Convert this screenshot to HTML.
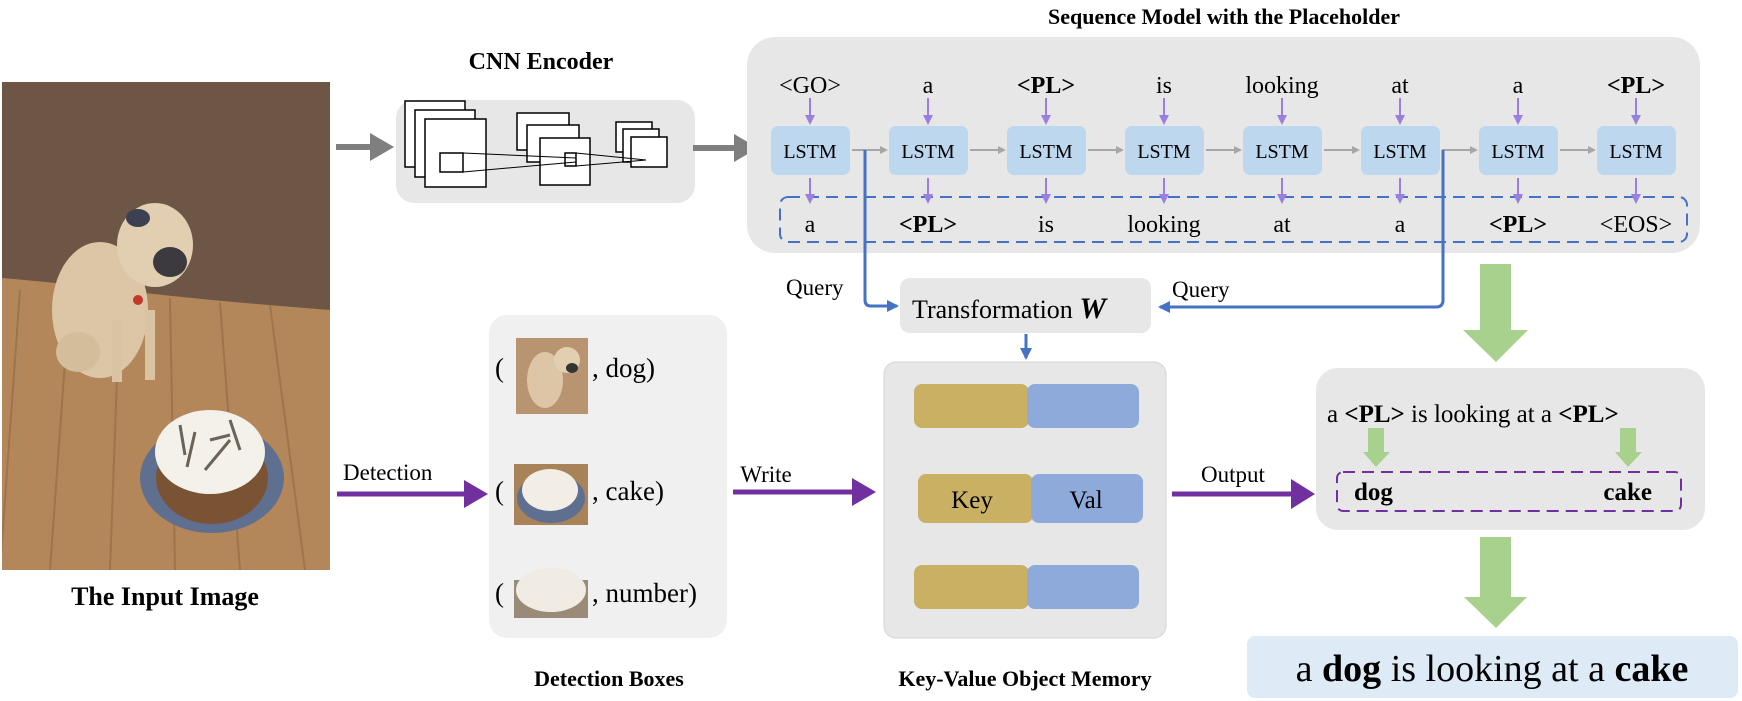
<!DOCTYPE html>
<html><head><meta charset="utf-8"><style>
html,body{margin:0;padding:0;background:#fff;}
svg{display:block;}
svg text{font-family:"Liberation Serif","Times New Roman",serif;}
</style></head><body>
<svg width="1742" height="701" viewBox="0 0 1742 701" xmlns="http://www.w3.org/2000/svg" font-family="Liberation Serif, serif">
<defs>
<marker id="ag" markerWidth="8" markerHeight="8" refX="6" refY="4" orient="auto" markerUnits="userSpaceOnUse"><path d="M0,0 L8,4 L0,8 z" fill="#a6a6a6"/></marker>
<marker id="ap" markerWidth="10" markerHeight="10" refX="8" refY="5" orient="auto" markerUnits="userSpaceOnUse"><path d="M0,0 L10,5 L0,10 z" fill="#9b7fe0"/></marker>
<marker id="ab" markerWidth="12" markerHeight="12" refX="10" refY="6" orient="auto" markerUnits="userSpaceOnUse"><path d="M0,0 L12,6 L0,12 z" fill="#4472c4"/></marker>
<clipPath id="ph"><rect x="2" y="82" width="328" height="488"/></clipPath>
</defs>

<!-- Photo -->
<g clip-path="url(#ph)">
<rect x="2" y="82" width="328" height="488" fill="#b4875a"/>
<path d="M2,82 H330 V310 Q200,300 120,290 Q50,282 2,278 Z" fill="#6e5646"/>
<g stroke="#8e6a45" stroke-width="2" opacity="0.6">
<line x1="20" y1="290" x2="0" y2="570"/><line x1="70" y1="292" x2="50" y2="570"/><line x1="120" y1="295" x2="110" y2="570"/><line x1="170" y1="298" x2="175" y2="570"/><line x1="220" y1="302" x2="240" y2="570"/><line x1="270" y1="305" x2="305" y2="570"/>
</g>
<ellipse cx="100" cy="310" rx="48" ry="68" fill="#dcc6a6"/>
<ellipse cx="155" cy="245" rx="38" ry="42" fill="#e2cfb2"/>
<ellipse cx="170" cy="262" rx="17" ry="15" fill="#3c3a3e"/>
<ellipse cx="138" cy="218" rx="12" ry="9" fill="#3b4150"/>
<rect x="112" y="320" width="10" height="62" fill="#d8c3a2"/>
<rect x="145" y="310" width="10" height="70" fill="#d8c3a2"/>
<ellipse cx="78" cy="352" rx="22" ry="20" fill="#d4bd9a"/>
<circle cx="138" cy="300" r="5" fill="#c0392b"/>
<ellipse cx="212" cy="478" rx="72" ry="55" fill="#5f6f90"/>
<ellipse cx="212" cy="478" rx="56" ry="46" fill="#7a5334"/>
<ellipse cx="210" cy="452" rx="55" ry="42" fill="#f4f1ea"/>
<path d="M180,425 l5,30 M195,432 l-8,35 M210,440 l20,-5 M205,470 l25,-30 M230,420 l10,30" stroke="#6b6258" stroke-width="3" fill="none"/>
</g>
<text x="165" y="605" font-size="26" font-weight="bold" text-anchor="middle">The Input Image</text>

<!-- arrow into CNN -->
<line x1="336" y1="147" x2="372" y2="147" stroke="#7f7f7f" stroke-width="6"/>
<path d="M370,133 L394,147 L370,161 z" fill="#7f7f7f"/>

<!-- CNN encoder -->
<text x="541" y="69" font-size="24" font-weight="bold" text-anchor="middle">CNN Encoder</text>
<rect x="396" y="100" width="299" height="103" rx="18" fill="#e7e7e7"/>
<g fill="#fff" stroke="#000" stroke-width="1.5">
<rect x="405" y="101" width="60" height="66"/><rect x="415" y="110" width="60" height="67"/><rect x="425" y="119" width="61" height="68"/>
<rect x="517" y="113" width="52" height="37"/><rect x="527" y="125" width="52" height="37"/><rect x="540" y="138" width="50" height="47"/>
<rect x="616" y="122" width="36" height="30"/><rect x="623" y="129" width="36" height="33"/><rect x="631" y="137" width="36" height="30"/>
<rect x="440" y="153" width="23" height="19"/>
<rect x="565" y="153" width="11" height="13"/>
</g>
<g stroke="#000" stroke-width="1" fill="none">
<line x1="463" y1="153" x2="576" y2="158"/><line x1="463" y1="172" x2="576" y2="162"/>
<line x1="576" y1="153" x2="646" y2="160"/><line x1="576" y1="166" x2="646" y2="160"/>
</g>

<!-- arrow CNN -> seq -->
<line x1="693" y1="148" x2="736" y2="148" stroke="#7f7f7f" stroke-width="6"/>
<path d="M734,134 L758,148 L734,162 z" fill="#7f7f7f"/>

<!-- Sequence model -->
<text x="1224" y="24" font-size="22" font-weight="bold" text-anchor="middle">Sequence Model with the Placeholder</text>
<rect x="747" y="37" width="953" height="216" rx="28" fill="#e7e7e7"/>
<rect x="780" y="197" width="907" height="45" rx="8" fill="none" stroke="#4472c4" stroke-width="2" stroke-dasharray="12,7"/>

<g font-size="24" text-anchor="middle">
<text x="810" y="93">&lt;GO&gt;</text>
<text x="928" y="93">a</text>
<text x="1046" y="93" font-weight="bold">&lt;PL&gt;</text>
<text x="1164" y="93">is</text>
<text x="1282" y="93">looking</text>
<text x="1400" y="93">at</text>
<text x="1518" y="93">a</text>
<text x="1636" y="93" font-weight="bold">&lt;PL&gt;</text>

<text x="810" y="232">a</text>
<text x="928" y="232" font-weight="bold">&lt;PL&gt;</text>
<text x="1046" y="232">is</text>
<text x="1164" y="232">looking</text>
<text x="1282" y="232">at</text>
<text x="1400" y="232">a</text>
<text x="1518" y="232" font-weight="bold">&lt;PL&gt;</text>
<text x="1636" y="232">&lt;EOS&gt;</text>
</g>

<g>
<g fill="#bdd7ee">
<rect x="771" y="126" width="79" height="49" rx="7"/>
<rect x="889" y="126" width="79" height="49" rx="7"/>
<rect x="1007" y="126" width="79" height="49" rx="7"/>
<rect x="1125" y="126" width="79" height="49" rx="7"/>
<rect x="1243" y="126" width="79" height="49" rx="7"/>
<rect x="1361" y="126" width="79" height="49" rx="7"/>
<rect x="1479" y="126" width="79" height="49" rx="7"/>
<rect x="1597" y="126" width="79" height="49" rx="7"/>
</g>
<g font-size="20" text-anchor="middle">
<text x="810" y="158">LSTM</text><text x="928" y="158">LSTM</text><text x="1046" y="158">LSTM</text><text x="1164" y="158">LSTM</text>
<text x="1282" y="158">LSTM</text><text x="1400" y="158">LSTM</text><text x="1518" y="158">LSTM</text><text x="1636" y="158">LSTM</text>
</g>
<g stroke="#a6a6a6" stroke-width="2" marker-end="url(#ag)">
<line x1="852" y1="150" x2="886" y2="150"/><line x1="970" y1="150" x2="1004" y2="150"/><line x1="1088" y1="150" x2="1122" y2="150"/>
<line x1="1206" y1="150" x2="1240" y2="150"/><line x1="1324" y1="150" x2="1358" y2="150"/><line x1="1442" y1="150" x2="1476" y2="150"/><line x1="1560" y1="150" x2="1594" y2="150"/>
</g>
<g stroke="#9b7fe0" stroke-width="2" marker-end="url(#ap)">
<line x1="810" y1="98" x2="810" y2="123"/><line x1="928" y1="98" x2="928" y2="123"/><line x1="1046" y1="98" x2="1046" y2="123"/><line x1="1164" y1="98" x2="1164" y2="123"/>
<line x1="1282" y1="98" x2="1282" y2="123"/><line x1="1400" y1="98" x2="1400" y2="123"/><line x1="1518" y1="98" x2="1518" y2="123"/><line x1="1636" y1="98" x2="1636" y2="123"/>
<line x1="810" y1="178" x2="810" y2="202"/><line x1="928" y1="178" x2="928" y2="202"/><line x1="1046" y1="178" x2="1046" y2="202"/><line x1="1164" y1="178" x2="1164" y2="202"/>
<line x1="1282" y1="178" x2="1282" y2="202"/><line x1="1400" y1="178" x2="1400" y2="202"/><line x1="1518" y1="178" x2="1518" y2="202"/><line x1="1636" y1="178" x2="1636" y2="202"/>
</g>
</g>

<!-- Query lines -->
<path d="M865,150 V300 Q865,306 871,306 H897" fill="none" stroke="#4472c4" stroke-width="3" marker-end="url(#ab)"/>
<path d="M1443,150 V300 Q1443,307 1436,307 H1160" fill="none" stroke="#4472c4" stroke-width="3" marker-end="url(#ab)"/>
<text x="786" y="295" font-size="23">Query</text>
<text x="1172" y="297" font-size="23">Query</text>

<!-- Transformation -->
<rect x="900" y="278" width="251" height="55" rx="10" fill="#e7e7e7"/>
<text x="912" y="318" font-size="26">Transformation <tspan font-weight="bold" font-style="italic" font-size="30">W</tspan></text>
<line x1="1026" y1="334" x2="1026" y2="358" stroke="#4472c4" stroke-width="3" marker-end="url(#ab)"/>

<!-- Memory -->
<rect x="884" y="362" width="282" height="276" rx="12" fill="#e7e7e7" stroke="#d6d6d6"/>
<rect x="914" y="384" width="115" height="44" rx="8" fill="#c9b063"/>
<rect x="1027" y="384" width="112" height="44" rx="8" fill="#8eaadb"/>
<rect x="918" y="474" width="115" height="49" rx="8" fill="#c9b063"/>
<rect x="1031" y="474" width="112" height="49" rx="8" fill="#8eaadb"/>
<rect x="914" y="565" width="115" height="44" rx="8" fill="#c9b063"/>
<rect x="1027" y="565" width="112" height="44" rx="8" fill="#8eaadb"/>
<text x="972" y="508" font-size="25" text-anchor="middle">Key</text>
<text x="1086" y="508" font-size="25" text-anchor="middle">Val</text>
<text x="1025" y="686" font-size="22" font-weight="bold" text-anchor="middle">Key-Value Object Memory</text>

<!-- Detection -->
<text x="343" y="480" font-size="23">Detection</text>
<line x1="337" y1="494" x2="468" y2="494" stroke="#7030a0" stroke-width="5"/>
<path d="M464,480 L488,494 L464,508 z" fill="#7030a0"/>
<rect x="489" y="315" width="238" height="323" rx="18" fill="#f0f0f0"/>
<g font-size="27">
<text x="495" y="377">(</text><text x="592" y="377">,  dog)</text>
<text x="495" y="500">(</text><text x="592" y="500">,  cake)</text>
<text x="495" y="602">(</text><text x="592" y="602">,  number)</text>
</g>
<rect x="516" y="338" width="72" height="76" fill="#b89570"/>
<ellipse cx="545" cy="380" rx="18" ry="28" fill="#dcc6a6"/>
<ellipse cx="567" cy="360" rx="13" ry="13" fill="#e2cfb2"/>
<ellipse cx="572" cy="368" rx="6" ry="5" fill="#333"/>
<rect x="514" y="464" width="74" height="61" fill="#a88259"/>
<ellipse cx="551" cy="498" rx="34" ry="25" fill="#5f6f90"/>
<ellipse cx="550" cy="490" rx="28" ry="21" fill="#f2eee6"/>
<rect x="514" y="580" width="74" height="38" fill="#9a8a78"/>
<ellipse cx="551" cy="590" rx="35" ry="22" fill="#f0ece4"/>
<text x="609" y="686" font-size="22" font-weight="bold" text-anchor="middle">Detection Boxes</text>

<!-- Write -->
<text x="766" y="482" font-size="23" text-anchor="middle">Write</text>
<line x1="733" y1="492" x2="855" y2="492" stroke="#7030a0" stroke-width="5"/>
<path d="M852,478 L876,492 L852,506 z" fill="#7030a0"/>

<!-- Output -->
<text x="1233" y="482" font-size="23" text-anchor="middle">Output</text>
<line x1="1172" y1="494" x2="1294" y2="494" stroke="#7030a0" stroke-width="5"/>
<path d="M1291,479 L1315,494 L1291,509 z" fill="#7030a0"/>

<!-- green arrow down from seq -->
<rect x="1480" y="264" width="31" height="68" fill="#a9d18e"/>
<path d="M1463,330 L1528,330 L1496,362 z" fill="#a9d18e"/>

<!-- output box -->
<rect x="1316" y="368" width="389" height="162" rx="22" fill="#e7e7e7"/>
<text x="1327" y="422" font-size="25">a <tspan font-weight="bold">&lt;PL&gt;</tspan> is looking at a <tspan font-weight="bold">&lt;PL&gt;</tspan></text>
<rect x="1368" y="428" width="16" height="26" fill="#a9d18e"/>
<path d="M1363,452 L1390,452 L1376,467 z" fill="#a9d18e"/>
<rect x="1620" y="428" width="16" height="26" fill="#a9d18e"/>
<path d="M1615,452 L1642,452 L1628,467 z" fill="#a9d18e"/>
<rect x="1337" y="472" width="344" height="39" rx="6" fill="none" stroke="#7030a0" stroke-width="2" stroke-dasharray="12,7"/>
<text x="1354" y="500" font-size="25" font-weight="bold">dog</text>
<text x="1652" y="500" font-size="25" font-weight="bold" text-anchor="end">cake</text>

<!-- green arrow down to final -->
<rect x="1480" y="537" width="31" height="62" fill="#a9d18e"/>
<path d="M1464,597 L1527,597 L1496,628 z" fill="#a9d18e"/>

<!-- final box -->
<rect x="1247" y="636" width="491" height="62" rx="8" fill="#deebf7"/>
<text x="1492" y="681" font-size="38" text-anchor="middle">a <tspan font-weight="bold">dog</tspan> is looking at a <tspan font-weight="bold">cake</tspan></text>
</svg>
</body></html>
